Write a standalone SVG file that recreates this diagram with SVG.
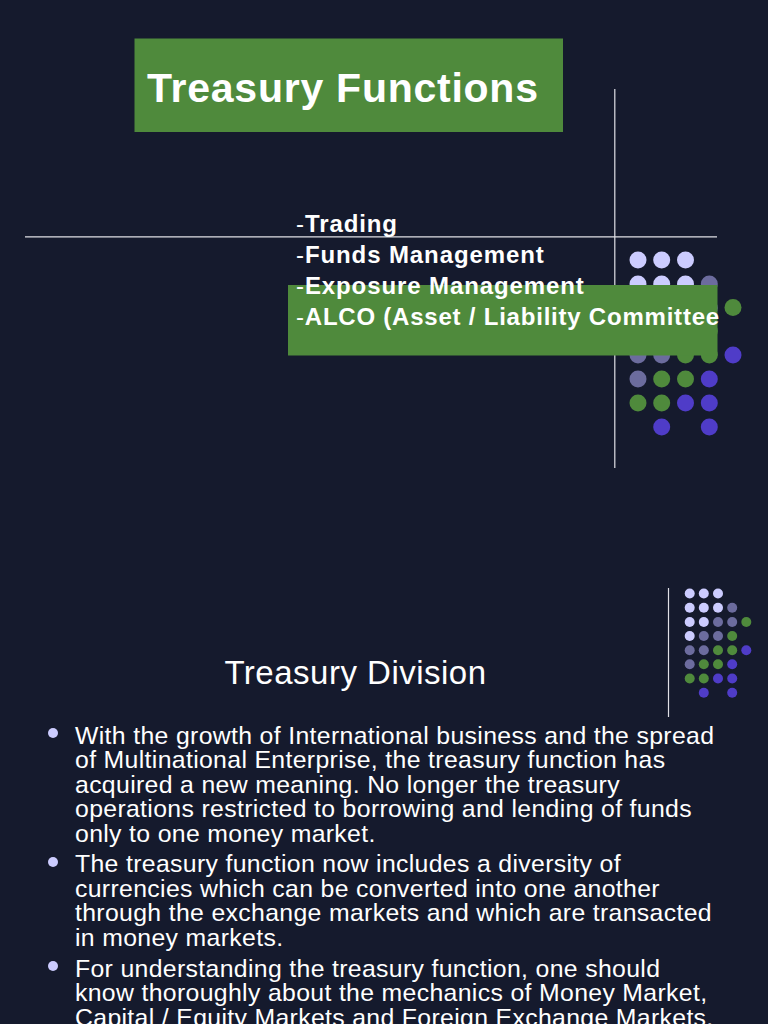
<svg xmlns="http://www.w3.org/2000/svg" width="768" height="1024" viewBox="0 0 768 1024">
<style>
text{font-family:"Liberation Sans",Arial,sans-serif;fill:#fff}
.l{fill:#ccccff}.m{fill:#6c6c9e}.g{fill:#4f8a3c}.b{fill:#4f3cc8}
.rule{stroke:#e0e0e6;stroke-width:1.2;fill:none}
.sub{font-size:24px;font-weight:bold;letter-spacing:.9px}
.sub.tight{letter-spacing:.78px}
.body{font-size:24.8px;letter-spacing:.34px}
.bullet{fill:#ccccff}
</style>
<defs>
<circle id="dl" r="8.5"/>
<circle id="ds" r="5"/>
<g id="pat-l">
<use href="#dl" class="l" x="638" y="260"/><use href="#dl" class="l" x="661.7" y="260"/><use href="#dl" class="l" x="685.5" y="260"/>
<use href="#dl" class="l" x="638" y="284"/><use href="#dl" class="l" x="661.7" y="284"/><use href="#dl" class="l" x="685.5" y="284"/><use href="#dl" class="m" x="709.3" y="284"/>
<use href="#dl" class="l" x="638" y="308"/><use href="#dl" class="l" x="661.7" y="308"/><use href="#dl" class="m" x="685.5" y="308"/><use href="#dl" class="m" x="709.3" y="308"/><use href="#dl" class="g" x="733" y="307.500"/>
<use href="#dl" class="l" x="638" y="331"/><use href="#dl" class="m" x="661.7" y="331"/><use href="#dl" class="m" x="685.5" y="331"/><use href="#dl" class="g" x="709.3" y="331"/>
<use href="#dl" class="m" x="638" y="355"/><use href="#dl" class="m" x="661.7" y="355"/><use href="#dl" class="g" x="685.5" y="355"/><use href="#dl" class="g" x="709.3" y="355"/><use href="#dl" class="b" x="733" y="355"/>
<use href="#dl" class="m" x="638" y="379"/><use href="#dl" class="g" x="661.7" y="379"/><use href="#dl" class="g" x="685.5" y="379"/><use href="#dl" class="b" x="709.3" y="379"/>
<use href="#dl" class="g" x="638" y="403"/><use href="#dl" class="g" x="661.7" y="403"/><use href="#dl" class="b" x="685.5" y="403"/><use href="#dl" class="b" x="709.3" y="403"/>
<use href="#dl" class="b" x="661.7" y="427"/><use href="#dl" class="b" x="709.3" y="427"/>
</g>
<g id="pat-s">
<use href="#ds" class="l" x="689.7" y="593.500"/><use href="#ds" class="l" x="703.8" y="593.500"/><use href="#ds" class="l" x="718" y="593.500"/>
<use href="#ds" class="l" x="689.7" y="607.700"/><use href="#ds" class="l" x="703.8" y="607.700"/><use href="#ds" class="l" x="718" y="607.700"/><use href="#ds" class="m" x="732.200" y="607.700"/>
<use href="#ds" class="l" x="689.7" y="622"/><use href="#ds" class="l" x="703.8" y="622"/><use href="#ds" class="m" x="718" y="622"/><use href="#ds" class="m" x="732.200" y="622"/><use href="#ds" class="g" x="746.300" y="622"/>
<use href="#ds" class="l" x="689.7" y="636"/><use href="#ds" class="m" x="703.8" y="636"/><use href="#ds" class="m" x="718" y="636"/><use href="#ds" class="g" x="732.200" y="636"/>
<use href="#ds" class="m" x="689.7" y="650.200"/><use href="#ds" class="m" x="703.8" y="650.200"/><use href="#ds" class="g" x="718" y="650.200"/><use href="#ds" class="g" x="732.200" y="650.200"/><use href="#ds" class="b" x="746.300" y="650.200"/>
<use href="#ds" class="m" x="689.7" y="664.300"/><use href="#ds" class="g" x="703.8" y="664.300"/><use href="#ds" class="g" x="718" y="664.300"/><use href="#ds" class="b" x="732.200" y="664.300"/>
<use href="#ds" class="g" x="689.7" y="678.500"/><use href="#ds" class="g" x="703.8" y="678.500"/><use href="#ds" class="b" x="718" y="678.500"/><use href="#ds" class="b" x="732.200" y="678.500"/>
<use href="#ds" class="b" x="703.8" y="692.700"/><use href="#ds" class="b" x="732.200" y="692.700"/>
</g>
</defs>
<rect width="768" height="1024" fill="#151a2d"/>
<g id="slide1-dots"><use href="#pat-l"/></g>
<g id="slide1-rules">
<line class="rule" x1="25" y1="236.800" x2="717" y2="236.800"/>
<line class="rule" x1="614.800" y1="89" x2="614.800" y2="468"/>
</g>
<g id="title-box">
<rect x="134.500" y="38.500" width="428.500" height="93.500" class="g"/>
<text x="147" y="102" font-size="41" font-weight="bold" letter-spacing=".75">Treasury Functions</text>
</g>
<g id="green-band"><rect x="288" y="285" width="429.500" height="70.500" class="g"/></g>
<g id="function-list">
<text class="sub" x="296" y="232"><tspan font-weight="normal">-</tspan>Trading</text>
<text class="sub" x="296" y="263"><tspan font-weight="normal">-</tspan>Funds Management</text>
<text class="sub" x="296" y="294"><tspan font-weight="normal">-</tspan>Exposure Management</text>
<text class="sub tight" x="296" y="325"><tspan font-weight="normal">-</tspan>ALCO (Asset / Liability Committee</text>
</g>
<g id="slide2-dots"><use href="#pat-s"/></g>
<g id="slide2-rule"><line class="rule" x1="668.500" y1="588" x2="668.500" y2="717"/></g>
<g id="slide2-title"><text x="355.500" y="684" font-size="33" letter-spacing=".5" text-anchor="middle">Treasury Division</text></g>
<g id="slide2-body">
<circle class="bullet" cx="53" cy="733" r="5"/>
<circle class="bullet" cx="53" cy="862" r="5"/>
<circle class="bullet" cx="53" cy="966" r="5"/>
<text class="body" x="75" y="743.500">With the growth of International business and the spread</text>
<text class="body" x="75" y="768">of Multinational Enterprise, the treasury function has</text>
<text class="body" x="75" y="792.500">acquired a new meaning. No longer the treasury</text>
<text class="body" x="75" y="817">operations restricted to borrowing and lending of funds</text>
<text class="body" x="75" y="841.500">only to one money market.</text>
<text class="body" x="75" y="872">The treasury function now includes a diversity of</text>
<text class="body" x="75" y="896.500">currencies which can be converted into one another</text>
<text class="body" x="75" y="921">through the exchange markets and which are transacted</text>
<text class="body" x="75" y="945.500">in money markets.</text>
<text class="body" x="75" y="976.500">For understanding the treasury function, one should</text>
<text class="body" x="75" y="1001">know thoroughly about the mechanics of Money Market,</text>
<text class="body" x="75" y="1025.500">Capital / Equity Markets and Foreign Exchange Markets.</text>
</g>
</svg>
